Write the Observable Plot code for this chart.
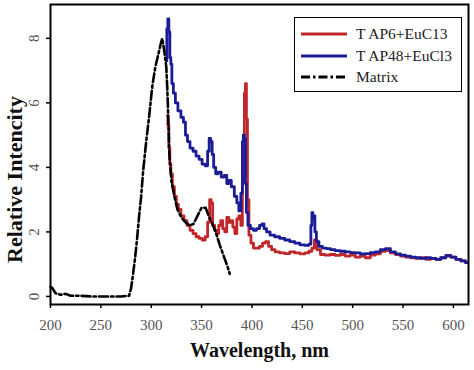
<!DOCTYPE html>
<html>
<head>
<meta charset="utf-8">
<script src="https://cdn.jsdelivr.net/npm/d3@7"></script>
<script src="https://cdn.jsdelivr.net/npm/@observablehq/plot@0.6"></script>
<style>
  html, body { margin: 0; padding: 0; background: #fff; }
  #wrap { position: relative; width: 474px; height: 370px; }
  #legend { position: absolute; left: 294px; top: 17px; width: 166px; height: 73px;
    border: 1.5px solid #000; background: #fff; font-family: "Liberation Serif", serif; font-size: 15.5px; color: #222; }
  .row { position: absolute; left: 6px; height: 18px; display: flex; align-items: center; }
  .row svg { margin-right: 9px; }
</style>
</head>
<body>
<div id="wrap"><div id="chart"></div><div id="legend"></div></div>
<script>
const xTicks = [200, 250, 300, 350, 400, 450, 500, 550, 600];
const yTicks = [0, 2, 4, 6, 8];
const seriesNames = ["T AP6+EuC13", "T AP48+EuCl3", "Matrix"];
const seriesColors = ["#c0272b", "#1c1c96", "#000000"];

const matrixWl = [200,202,205,210,215,220,230,240,250,260,270,278,280,282,284,286,288,290,292,295,298,301,304,307,310,311,313,315,316,317,318,320,323,326,330,334,338,342,346,350,354,357,360,364,368,372,376,378];
const matrixVal = [0.3,0.25,0.1,0.05,0.08,0.02,0.02,0,0,0,0,0.02,0.25,0.7,1.2,1.8,2.5,3.1,3.9,4.8,5.6,6.5,7.1,7.5,7.9,8.0,7.6,7.1,6.4,5.5,4.4,3.6,3.1,2.7,2.45,2.3,2.2,2.25,2.5,2.75,2.75,2.5,2.3,2.0,1.6,1.25,0.9,0.7];

const tap6Wl = [316,317,318,319,320,322,324,326,328,331,334,337,340,343,346,349,352,355,357,359,360,362,364,366,368,370,372,374,376,378,380,382,384,386,388,390,391,392,393,394,395,396,398,400,403,406,409,412,415,418,421,425,430,435,440,445,450,455,458,461,463,466,470,475,480,485,490,495,500,505,510,515,520,525,530,535,540,545,550,555,560,565,570,575,580,585,590,595,600,605,610,614];
const tap6Val = [5.6,5.3,4.6,4.1,3.8,3.4,3.1,2.85,2.7,2.5,2.35,2.2,2.05,1.95,1.85,1.8,1.75,1.85,2.3,3.0,2.9,2.2,2.05,1.95,2.2,2.35,2.1,2.0,2.45,2.3,2.35,2.15,1.95,2.4,2.5,2.2,3.5,5.0,6.3,6.6,5.5,3.0,1.9,1.65,1.5,1.5,1.55,1.65,1.7,1.55,1.45,1.38,1.35,1.33,1.38,1.35,1.32,1.35,1.4,1.5,1.75,1.45,1.3,1.28,1.3,1.27,1.3,1.25,1.28,1.22,1.25,1.2,1.28,1.32,1.4,1.42,1.35,1.3,1.25,1.22,1.2,1.18,1.2,1.15,1.18,1.15,1.2,1.25,1.22,1.15,1.1,1.05];

const tap48Wl = [315,316,317,318,319,320,321,323,325,328,331,333,335,337,340,343,346,349,352,355,357,358,360,361,363,365,368,371,374,376,378,381,384,386,388,390,391,392,393,394,395,397,400,403,406,409,411,413,416,420,425,430,435,440,445,450,455,458,459,460,461,462,463,465,468,472,476,480,485,490,495,500,505,510,515,520,525,530,535,540,545,550,555,560,565,570,575,580,585,590,595,600,605,610,614];
const tap48Val = [7.3,8.3,8.6,8.2,7.4,7.2,6.6,6.3,6.0,5.75,5.55,5.4,5.0,4.8,4.6,4.5,4.35,4.25,4.1,4.05,4.5,4.9,4.8,4.4,4.0,3.8,3.85,3.7,3.75,3.5,3.6,3.4,3.1,2.9,2.65,3.2,4.8,5.0,4.9,3.5,2.6,2.2,2.1,2.05,2.1,2.2,2.25,2.1,2.0,1.9,1.85,1.8,1.75,1.7,1.65,1.6,1.58,1.62,2.2,2.6,2.4,2.5,2.0,1.7,1.55,1.5,1.48,1.45,1.42,1.4,1.38,1.36,1.35,1.32,1.33,1.36,1.38,1.45,1.48,1.38,1.32,1.28,1.25,1.22,1.2,1.18,1.2,1.18,1.15,1.2,1.27,1.22,1.15,1.1,1.05];

const toRows = (wl, val) => wl.map((w, i) => ({wl: w, v: val[i]}));
const tap6 = toRows(tap6Wl, tap6Val);
const tap48 = toRows(tap48Wl, tap48Val);
const matrix = toRows(matrixWl, matrixVal);

const serif = "'Liberation Serif', 'Times New Roman', serif";

const chart = Plot.plot({
  width: 474,
  height: 370,
  marginLeft: 50,
  marginTop: 4,
  marginRight: 6,
  marginBottom: 66,
  style: {fontFamily: serif, background: "#fff"},
  x: {domain: [200, 615]},
  y: {domain: [-0.25, 9.05]},
  marks: [
    Plot.axisX({ticks: xTicks, tickSize: 4, tickPadding: 11, fontSize: 15, label: null, stroke: "#000", strokeWidth: 1.5, color: "#555"}),
    Plot.axisY({ticks: yTicks, tickSize: 4, tickPadding: 8, fontSize: 15, tickRotate: -90, label: null, stroke: "#000", strokeWidth: 1.5, color: "#555"}),
    Plot.lineY(tap6, {x: "wl", y: "v", stroke: seriesColors[0], strokeWidth: 2.8, curve: "step"}),
    Plot.lineY(tap48, {x: "wl", y: "v", stroke: seriesColors[1], strokeWidth: 2.8, curve: "step"}),
    Plot.lineY(matrix, {x: "wl", y: "v", stroke: seriesColors[2], strokeWidth: 2.6, strokeDasharray: "9,3,2.5,3"}),
    Plot.frame({stroke: "#000", strokeWidth: 2}),
    Plot.text(["Wavelength, nm"], {frameAnchor: "bottom", textAnchor: "middle", dy: 52, fontSize: 20, fontWeight: "bold", fill: "#111", fontFamily: serif, letterSpacing: "0.7px"}),
    Plot.text(["Relative Intencity"], {frameAnchor: "left", textAnchor: "middle", dx: -36, dy: 25, rotate: -90, fontSize: 22, fontWeight: "bold", fill: "#111", fontFamily: serif, letterSpacing: "4.5px"})
  ]
});
document.getElementById("chart").appendChild(chart);

const legend = document.getElementById("legend");
const rowTops = [7, 29, 50];
seriesNames.forEach((name, i) => {
  const row = document.createElement("div");
  row.className = "row";
  row.style.top = rowTops[i] + "px";
  const dash = i === 2 ? 'stroke-dasharray="9,3,2.5,3"' : "";
  row.innerHTML = `<svg width="46" height="6"><line x1="0" y1="3" x2="46" y2="3" stroke="${seriesColors[i]}" stroke-width="3" ${dash}/></svg><span>${name}</span>`;
  legend.appendChild(row);
});
</script>
</body>
</html>
